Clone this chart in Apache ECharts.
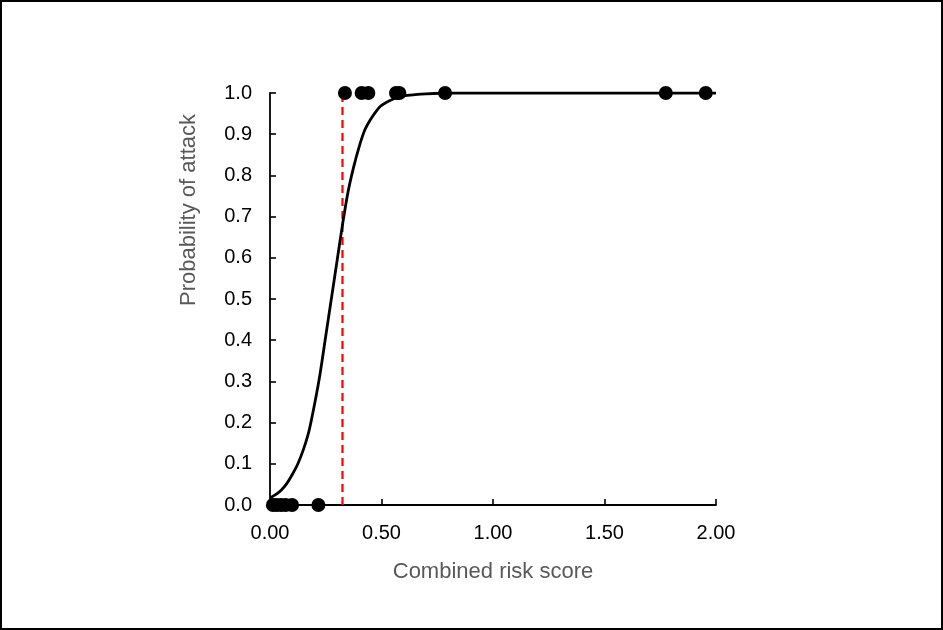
<!DOCTYPE html>
<html>
<head>
<meta charset="utf-8">
<script src="https://cdn.jsdelivr.net/npm/echarts@6/dist/echarts.min.js"></script>
<style>
html,body{margin:0;padding:0;background:#fff;}
#frame{position:absolute;left:0;top:0;width:943px;height:630px;box-sizing:border-box;border:2px solid #000;}
#chart{position:absolute;left:0;top:0;width:943px;height:630px;}
</style>
</head>
<body>
<div id="chart"></div>
<div id="frame"></div>
<script>
// Observed outcomes: attack (1.0) and no attack (0.0)
const attackX = [0.336, 0.411, 0.441, 0.565, 0.58, 0.785, 1.775, 1.954];
const noAttackX = [0.013, 0.03, 0.05, 0.07, 0.099, 0.217];
// Fitted probability curve
const curveX = [0, 0.025, 0.05, 0.075, 0.1, 0.125, 0.15, 0.175, 0.2, 0.225, 0.25, 0.275, 0.3, 0.325, 0.35, 0.375, 0.4, 0.425, 0.45, 0.475, 0.5, 0.55, 0.6, 0.65, 0.7, 0.8, 1.0, 1.5, 2.0];
const curveY = [0.017, 0.025, 0.036, 0.052, 0.074, 0.10, 0.135, 0.18, 0.245, 0.32, 0.41, 0.50, 0.59, 0.68, 0.76, 0.82, 0.87, 0.91, 0.935, 0.955, 0.97, 0.985, 0.993, 0.996, 0.998, 1.0, 1.0, 1.0, 1.0];
// Threshold (red dashed)
const thresholdX = 0.325;
// Tick labels
const xTickLabels = ['0.00', '0.50', '1.00', '1.50', '2.00'];
const yTickLabels = ['0.0','0.1','0.2','0.3','0.4','0.5','0.6','0.7','0.8','0.9','1.0'];

const chart = echarts.init(document.getElementById('chart'), null, {renderer: 'canvas'});
const font = 'Arial, "Liberation Sans", sans-serif';
chart.setOption({
  animation: false,
  backgroundColor: '#fff',
  grid: {left: 270, right: 227, top: 93, bottom: 125, containLabel: false},
  xAxis: {
    type: 'value', min: 0, max: 2, interval: 0.5,
    name: 'Combined risk score', nameLocation: 'middle', nameGap: 56,
    nameTextStyle: {color: '#595959', fontSize: 22, fontFamily: font},
    axisLine: {show: true, onZero: false, lineStyle: {color: '#000', width: 1.8}},
    axisTick: {show: true, inside: true, length: 6, lineStyle: {color: '#000', width: 1.6}},
    axisLabel: {color: '#000', fontSize: 20, fontFamily: font, margin: 18,
      formatter: (v) => xTickLabels[Math.round(v / 0.5)]},
    splitLine: {show: false}
  },
  yAxis: {
    type: 'value', min: 0, max: 1, interval: 0.1,
    axisLine: {show: true, onZero: false, lineStyle: {color: '#000', width: 1.8}},
    axisTick: {show: true, inside: true, length: 6, lineStyle: {color: '#000', width: 1.6}},
    axisLabel: {color: '#000', fontSize: 20, fontFamily: font, margin: 18,
      formatter: (v) => yTickLabels[Math.round(v * 10)]},
    splitLine: {show: false}
  },
  graphic: [{
    type: 'text', x: 189, y: 210, rotation: Math.PI / 2,
    style: {text: 'Probability of attack', fill: '#595959', fontSize: 22, fontFamily: font,
      align: 'center', verticalAlign: 'middle'}
  }],
  series: [
    {
      type: 'line', name: 'threshold', z: 2,
      data: [[thresholdX, 0], [thresholdX, 1]],
      symbol: 'none',
      lineStyle: {color: '#ff0000', width: 2.2, type: [8, 5]}
    },
    {
      type: 'line', name: 'fit', z: 3, smooth: 0.25,
      data: curveX.map((x, i) => [x, curveY[i]]),
      symbol: 'none',
      lineStyle: {color: '#000', width: 2.8}
    },
    {
      type: 'scatter', name: 'observed', z: 5,
      data: attackX.map(x => [x, 1]).concat(noAttackX.map(x => [x, 0])),
      symbol: 'circle', symbolSize: 14,
      itemStyle: {color: '#000', opacity: 1}
    }
  ]
});
</script>
</body>
</html>
